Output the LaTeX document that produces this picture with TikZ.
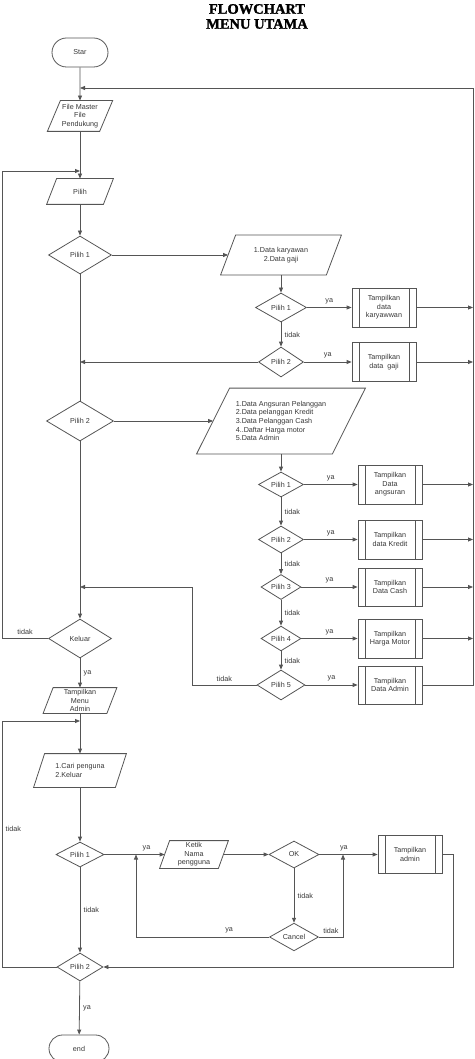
\documentclass[tikz,border=0pt]{standalone}
\usepackage{fontspec}
\setmainfont{Liberation Sans}
\newfontfamily\judulfont{Liberation Serif}[BoldFeatures={FakeBold=1.6}]
\usetikzlibrary{shapes.geometric,shapes.misc,arrows.meta}
\definecolor{garis}{RGB}{85,85,85}
\definecolor{teks}{RGB}{55,55,55}

\begin{document}
\begin{tikzpicture}[x=1pt,y=-1pt, color=garis, text=teks, line width=0.8pt,
	font=\fontsize{7.2}{8.6}\selectfont,
	>={Triangle[length=5pt,width=4pt]},
	term/.style={rounded rectangle, draw, minimum width=56pt, minimum height=29pt, inner sep=0pt},
	io/.style={rectangle, inner sep=0pt, align=center},
	pilihan/.style={diamond, draw, inner sep=0pt, align=center},
	proses/.style={rectangle, draw, inner sep=0pt, align=center, minimum width=64pt, minimum height=39pt,
		path picture={\draw[garis, line width=0.8pt] ([xshift=7pt]path picture bounding box.north west) -- ([xshift=7pt]path picture bounding box.south west)
			([xshift=-7pt]path picture bounding box.north east) -- ([xshift=-7pt]path picture bounding box.south east);}}]
	\useasboundingbox (0,0) rectangle (474,1059);

	\node[font=\judulfont\bfseries\fontsize{14.5}{15}\selectfont, text=black, align=center] (judul) at (257,16.5) {FLOWCHART\\MENU UTAMA};

	% kolom utama
	\node[term] (mulai) at (80,52.5) {Star};
	\node[io, minimum width=51.5pt, minimum height=30pt] (fm) at (80,116) {File Master\\File\\Pendukung};
	\node[io, minimum width=56pt, minimum height=25pt] (pilih) at (80,191.5) {Pilih};
	\node[pilihan, minimum width=63pt, minimum height=38pt] (p1) at (80,255) {Pilih 1};
	\node[pilihan, minimum width=67pt, minimum height=40pt] (p2) at (80,421) {Pilih 2};
	\node[pilihan, minimum width=63pt, minimum height=39pt] (kel) at (80,638.5) {Keluar};
	\node[io, minimum width=63pt, minimum height=25pt] (tm) at (80,700.5) {Tampilkan\\Menu\\Admin};
	\node[io, align=left, minimum width=81pt, minimum height=33pt] (cp) at (80,770.5) {1.Cari penguna\\2.Keluar};
	\node[pilihan, minimum width=48pt, minimum height=25pt] (r1) at (80,854.5) {Pilih 1};
	\node[pilihan, minimum width=46pt, minimum height=28pt] (r2) at (80,967) {Pilih 2};
	\node[term, minimum width=60pt, minimum height=27pt] (selesai) at (79,1048.5) {end};

	% data karyawan
	\node[io, minimum width=105pt, minimum height=39pt] (dk) at (281,255) {1.Data karyawan\\2.Data gaji};
	\node[pilihan, minimum width=51pt, minimum height=29pt] (dk1) at (281,307.5) {Pilih 1};
	\node[proses] (tk) at (384,307.5) {Tampilkan\\data\\karyawwan};
	\node[pilihan, minimum width=45pt, minimum height=30pt] (dk2) at (281,362) {Pilih 2};
	\node[proses] (tg) at (384,362) {Tampilkan\\data~~gaji};

	% data pelanggan
	\node[io, align=left, minimum width=135pt, minimum height=65pt] (dp) at (281,421) {1.Data Angsuran Pelanggan\\2.Data pelanggan Kredit\\3.Data Pelanggan Cash\\4..Daftar Harga motor\\5.Data Admin};
	\node[pilihan, minimum width=45pt, minimum height=25pt] (q1) at (281,484.5) {Pilih 1};
	\node[proses] (qa) at (390,484.5) {Tampilkan\\Data\\angsuran};
	\node[pilihan, minimum width=45pt, minimum height=27pt] (q2) at (281,539.5) {Pilih 2};
	\node[proses] (qb) at (390,539.5) {Tampilkan\\data Kredit};
	\node[pilihan, minimum width=40pt, minimum height=25pt] (q3) at (281,587) {Pilih 3};
	\node[proses, minimum height=38pt] (qc) at (390,587) {Tampilkan\\Data Cash};
	\node[pilihan, minimum width=40pt, minimum height=23pt] (q4) at (281,638.5) {Pilih 4};
	\node[proses] (qd) at (390,638.5) {Tampilkan\\Harga Motor};
	\node[pilihan, minimum width=48pt, minimum height=30pt] (q5) at (281,685) {Pilih 5};
	\node[proses, minimum height=38pt] (qe) at (390,685) {Tampilkan\\Data Admin};

	% menu admin
	\node[io, minimum width=58pt, minimum height=27pt] (ket) at (194,854.5) {Ketik\\Nama\\pengguna};
	\node[pilihan, minimum width=50pt, minimum height=27pt] (ok) at (294,854.5) {OK};
	\node[proses, minimum height=38pt] (ta) at (410,854.5) {Tampilkan\\admin};
	\node[pilihan, minimum width=49pt, minimum height=24pt] (cn) at (294,937) {Cancel};

	% jajaran genjang
	\foreach \n/\s in {fm/6.5,pilih/5,dk/7.5,dp/16.5,tm/5,cp/5.5,ket/5}
		\draw ([xshift=\s]\n.north west) -- ([xshift=\s]\n.north east) -- ([xshift=-\s]\n.south east) -- ([xshift=-\s]\n.south west) -- cycle;

	\coordinate (ka) at (473,88);
	\coordinate (j1) at (80,88);
	\coordinate (j2) at (80,171);
	\coordinate (kiri) at (2,171);
	\coordinate (j3) at (80,362);
	\coordinate (j4) at (80,587);
	\coordinate (lp) at (192,587);
	\coordinate (j5) at (80,721);
	\coordinate (kiri2) at (2,721);
	\coordinate (ya1) at (136,854.5);
	\coordinate (ya2) at (343,854.5);
	\coordinate (kb) at (453,854.5);

	\draw[->] (mulai) -- (fm);
	\draw[->] (fm) -- (pilih);
	\draw[->] (pilih) -- (p1);
	\draw[->] (p1) -- (dk);
	\draw (p1) -- (p2);
	\draw[->] (p2) -- (dp);
	\draw[->] (p2) -- (kel);
	\draw[->] (kel) -- node[above]{tidak} (kel -| kiri) -- (kiri) -- (j2);
	\draw[->] (kel) -- node[right]{ya} (tm);
	\draw[->] (tm) -- (cp);
	\draw[->] (cp) -- (r1);

	\draw[->] (dk) -- (dk1);
	\draw[->] (dk1) -- node[above]{ya} (tk);
	\draw[->] (dk1) -- node[right]{tidak} (dk2);
	\draw[->] (dk2) -- node[above]{ya} (tg);
	\draw[->] (dk2) -- (j3);

	\draw[->] (dp) -- (q1);
	\foreach \a/\b in {q1/qa,q2/qb,q3/qc,q4/qd,q5/qe}
		\draw[->] (\a) -- node[above]{ya} (\b);
	\foreach \a/\b in {q1/q2,q2/q3,q3/q4,q4/q5}
		\draw[->] (\a) -- node[right]{tidak} (\b);
	\foreach \b in {tk,tg,qa,qb,qc,qd}
		\draw[->] (\b) -- (\b -| ka);
	\draw[->] (qe) -- (qe -| ka) -- (ka) -- (j1);
	\draw[->] (q5) -- node[above]{tidak} (q5 -| lp) -- (lp) -- (j4);

	\draw[->] (r1) -- node[above,pos=0.7]{ya} (ket);
	\draw[->] (ket) -- (ok);
	\draw[->] (ok) -- node[above,pos=0.42]{ya} (ta);
	\draw[->] (ok) -- node[right]{tidak} (cn);
	\draw[->] (cn) -- node[above,pos=0.3]{ya} (cn -| ya1) -- (ya1);
	\draw[->] (cn) -- node[above]{tidak} (cn -| ya2) -- (ya2);
	\draw[->] (ta) -- (kb) -- (kb |- r2) -- (r2);
	\draw[->] (r1) -- node[right]{tidak} (r2);
	\draw[->] (r2) -- (r2 -| kiri) -- node[right,pos=0.56]{tidak} (kiri2) -- (j5);
	\draw[->] (r2) -- node[right]{ya} (selesai);
\end{tikzpicture}
\end{document}
